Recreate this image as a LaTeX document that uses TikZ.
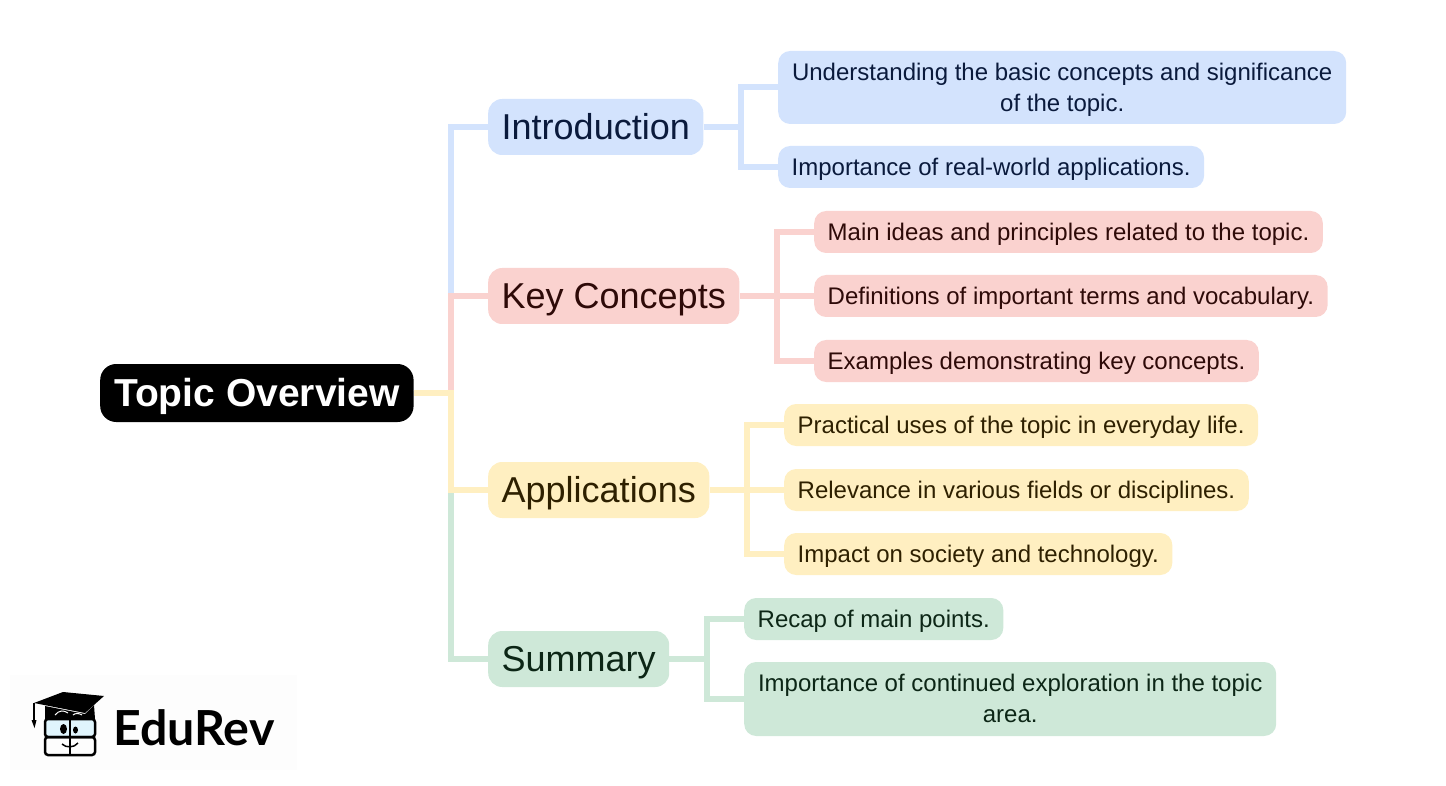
\documentclass[tikz,border=0pt]{standalone}
\usepackage{fontspec}
\setmainfont{Liberation Sans}
\newfontfamily\logofont{Lato}
\definecolor{introfill}{HTML}{D3E3FD}
\definecolor{introtext}{HTML}{0A1A3C}
\definecolor{keyfill}{HTML}{FAD2CF}
\definecolor{keytext}{HTML}{2E0A08}
\definecolor{appfill}{HTML}{FFEFC1}
\definecolor{apptext}{HTML}{2E2000}
\definecolor{sumfill}{HTML}{CEE8D8}
\definecolor{sumtext}{HTML}{0C2616}
\newcommand{\leafstrut}{\rule[-5pt]{0pt}{27pt}}
\newcommand{\lowstrut}{\rule[-5pt]{0pt}{25pt}}
\tikzset{
	topic/.style={anchor=west,rounded corners=14pt,inner xsep=13.5pt,inner ysep=0pt,minimum height=56pt,text height=25.5pt,text depth=0pt,font=\fontsize{36}{40}\selectfont},
	leaf/.style={anchor=west,rounded corners=12pt,inner xsep=13.5pt,inner ysep=0pt,minimum height=42pt,font=\fontsize{24}{31}\selectfont},
	link/.style={line width=6pt}
}
\begin{document}
\begin{tikzpicture}[x=1pt,y=-1pt]
	\useasboundingbox (0,0) rectangle (1446,786);

	\node[anchor=west,fill=black,text=white,rounded corners=16pt,inner xsep=14pt,inner ysep=0pt,minimum height=58pt,text height=27pt,text depth=0pt,font=\fontsize{39}{42}\selectfont\bfseries] (root) at (100,393) {Topic Overview};

	\node[topic,fill=introfill,text=introtext] (intro) at (488,127) {Introduction};
	\node[topic,fill=keyfill,text=keytext] (key) at (488,296) {Key Concepts};
	\node[topic,fill=appfill,text=apptext] (app) at (488,490) {Applications};
	\node[topic,fill=sumfill,text=sumtext] (sum) at (488,659) {Summary};

	\node[leaf,fill=introfill,text=introtext,align=center,minimum width=568pt,minimum height=73pt] (intro1) at (778,87.5) {\leafstrut Understanding the basic concepts and significance\\\leafstrut of the topic.};
	\node[leaf,fill=introfill,text=introtext] (intro2) at (778,167) {\leafstrut Importance of real-world applications.};

	\node[leaf,fill=keyfill,text=keytext] (key1) at (814,232) {\leafstrut Main ideas and principles related to the topic.};
	\node[leaf,fill=keyfill,text=keytext] (key2) at (814,296) {\leafstrut Definitions of important terms and vocabulary.};
	\node[leaf,fill=keyfill,text=keytext] (key3) at (814,361) {\leafstrut Examples demonstrating key concepts.};

	\node[leaf,fill=appfill,text=apptext] (app1) at (784,425) {\leafstrut Practical uses of the topic in everyday life.};
	\node[leaf,fill=appfill,text=apptext] (app2) at (784,490) {\leafstrut Relevance in various fields or disciplines.};
	\node[leaf,fill=appfill,text=apptext] (app3) at (784,554) {\leafstrut Impact on society and technology.};

	\node[leaf,fill=sumfill,text=sumtext] (sum1) at (744,619) {\leafstrut Recap of main points.};
	\node[leaf,fill=sumfill,text=sumtext,align=center,minimum width=532pt,minimum height=74pt] (sum2) at (744,699) {\lowstrut Importance of continued exploration in the topic\\\lowstrut area.};

	% trunk and forks
	\coordinate (trunk) at (451,393);
	\coordinate (introfork) at (741,127);
	\coordinate (keyfork) at (777,296);
	\coordinate (appfork) at (747,490);
	\coordinate (sumfork) at (707,659);

	\draw[link,introfill] (root.east) -- (trunk) |- (intro.west);
	\draw[link,sumfill] (root.east) -- (trunk) |- (sum.west);
	\draw[link,keyfill] (root.east) -- (trunk) |- (key.west);
	\draw[link,appfill] (root.east) -- (trunk) |- (app.west);

	\draw[link,introfill] (intro.east) -- (introfork);
	\foreach \n in {intro1,intro2}
		\draw[link,introfill] (introfork) |- (\n.west);
	\draw[link,keyfill] (key.east) -- (key2.west);
	\foreach \n in {key1,key3}
		\draw[link,keyfill] (keyfork) |- (\n.west);
	\draw[link,appfill] (app.east) -- (app2.west);
	\foreach \n in {app1,app3}
		\draw[link,appfill] (appfork) |- (\n.west);
	\draw[link,sumfill] (sum.east) -- (sumfork);
	\foreach \n in {sum1,sum2}
		\draw[link,sumfill] (sumfork) |- (\n.west);

	% logo
	\fill[black!0.7] (10,675) rectangle (297,770);
	\fill[black] (63,692) -- (104,696) -- (85,713) -- (34,703) -- cycle;
	\fill[black] (45,706) -- (85,714) -- (94,705) -- (95,719) -- (45,719) -- cycle;
	\draw[white,line width=1pt] (55,715) .. controls (59,710) and (64,710) .. (68,713);
	\draw[white,line width=1pt] (73,715) .. controls (75,713) and (79,713) .. (82,715);
	\draw[line width=1.5pt] (34,703) -- (34,720);
	\fill[black] (31.5,720) -- (36.5,720) -- (34.5,728) -- cycle;
	\draw[line width=2.5pt,fill=cyan!12,rounded corners=3pt] (45,719) rectangle (95,737);
	\draw[line width=2.5pt,rounded corners=3pt] (69.5,737) -| (45,755) -- (95,755) |- (69.5,737);
	\draw[line width=2pt] (69.5,717) -- (69.5,755);
	\fill[black] (63.5,729) ellipse [x radius=3.5pt,y radius=5pt];
	\fill[black] (75.5,730) ellipse [x radius=2.5pt,y radius=3.5pt];
	\draw[line width=1.5pt] (62,744) .. controls (66,748) and (74,748) .. (78,743);
	\node[anchor=base west,inner sep=0pt,font=\logofont\fontsize{48.3}{50}\selectfont\bfseries,text=black] (logoword) at (113,745.5) {EduRev};
\end{tikzpicture}
\end{document}
